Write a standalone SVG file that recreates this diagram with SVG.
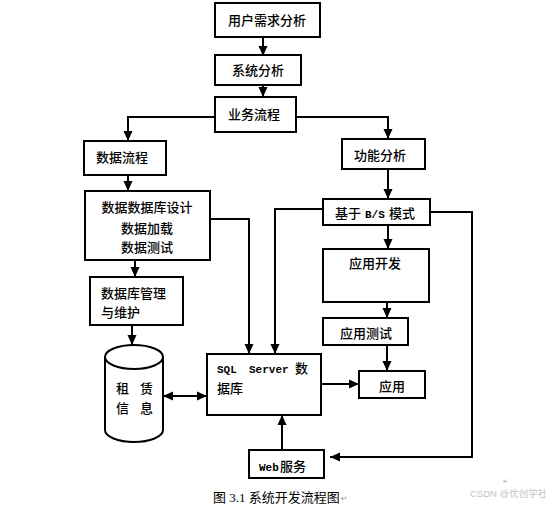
<svg xmlns="http://www.w3.org/2000/svg" width="546" height="505" viewBox="0 0 546 505">
<defs>
<marker id="ah" markerUnits="userSpaceOnUse" markerWidth="10" markerHeight="10" viewBox="0 0 10 10" refX="10" refY="5" orient="auto-start-reverse">
<path d="M0,0.5 L10,5 L0,9.5 Z" fill="#000"/>
</marker>
<style>
.box{fill:#fff;stroke:#000;stroke-width:2}
.ln{fill:none;stroke:#000;stroke-width:2}
.t{font-family:"Noto Sans CJK SC","Liberation Sans",sans-serif;font-size:13px;font-weight:500;fill:#000}
.m{font-family:"Liberation Mono","Noto Sans CJK SC",monospace;font-size:11px;font-weight:bold;fill:#000}
</style>
</defs>
<rect width="546" height="505" fill="#fff"/>
<g id="connectors">
<path class="ln" d="M263,37 V56" marker-end="url(#ah)"/>
<path class="ln" d="M263,85 V97" marker-end="url(#ah)"/>
<path class="ln" d="M215,117 H128 V141" marker-end="url(#ah)"/>
<path class="ln" d="M296,117 H388 V139" marker-end="url(#ah)"/>
<path class="ln" d="M388,169 V199" marker-end="url(#ah)"/>
<path class="ln" d="M128,175 V191" marker-end="url(#ah)"/>
<path class="ln" d="M210,219 H249 V354" marker-end="url(#ah)"/>
<path class="ln" d="M323,209 H275 V354" marker-end="url(#ah)"/>
<path class="ln" d="M430,212 H472 V457 H330" marker-end="url(#ah)"/>
<path class="ln" d="M388,225 V249" marker-end="url(#ah)"/>
<path class="ln" d="M387,302 V318" marker-end="url(#ah)"/>
<path class="ln" d="M387,345 V371" marker-end="url(#ah)"/>
<path class="ln" d="M321,384 H359" marker-end="url(#ah)"/>
<path class="ln" d="M163,396 H207" marker-start="url(#ah)" marker-end="url(#ah)"/>
<path class="ln" d="M282,450 V415" marker-end="url(#ah)"/>
<path class="ln" d="M135,260 V277" marker-end="url(#ah)"/>
<path class="ln" d="M132,325 V345" marker-end="url(#ah)"/>
</g>
<g id="n1"><rect class="box" x="215" y="3" width="105" height="34"/><text class="t" x="267" y="25" text-anchor="middle">用户需求分析</text></g>
<g id="n2"><rect class="box" x="215" y="55" width="86" height="30"/><text class="t" x="258" y="75" text-anchor="middle">系统分析</text></g>
<g id="n3"><rect class="box" x="215" y="97" width="81" height="35"/><text class="t" x="254" y="119" text-anchor="middle">业务流程</text></g>
<g id="n4"><rect class="box" x="84" y="141" width="82" height="34"/><text class="t" x="122" y="162" text-anchor="middle">数据流程</text></g>
<g id="n5"><rect class="box" x="342" y="139" width="83" height="30"/><text class="t" x="380" y="160" text-anchor="middle">功能分析</text></g>
<g id="n6"><rect class="box" x="85" y="191" width="125" height="69"/>
<text class="t" x="147" y="212" text-anchor="middle">数据数据库设计</text>
<text class="t" x="147" y="233" text-anchor="middle">数据加载</text>
<text class="t" x="147" y="252" text-anchor="middle">数据测试</text></g>
<g id="n7"><rect class="box" x="323" y="199" width="107" height="26"/>
<text class="t" x="335" y="218">基于</text><text class="m" x="365" y="218">B/S</text><text class="t" x="389" y="218">模式</text></g>
<g id="n8"><rect class="box" x="323" y="249" width="106" height="53"/><text class="t" x="375" y="268" text-anchor="middle">应用开发</text></g>
<g id="n9"><rect class="box" x="323" y="318" width="85" height="27"/><text class="t" x="366" y="338" text-anchor="middle">应用测试</text></g>
<g id="n10"><rect class="box" x="359" y="371" width="66" height="27"/><text class="t" x="392" y="391" text-anchor="middle">应用</text></g>
<g id="n11"><rect class="box" x="90" y="277" width="93" height="48"/>
<text class="t" x="101" y="298">数据库管理</text>
<text class="t" x="101" y="317">与维护</text></g>
<g id="n12">
<path class="box" d="M105,357 V430 A29,12 0 0 0 163,430 V357 A29,12 0 0 0 105,357 Z"/>
<path class="ln" d="M105,357 A29,12 0 0 0 163,357"/>
<text class="t" x="116" y="393">租</text><text class="t" x="140" y="393">赁</text>
<text class="t" x="116" y="413">信</text><text class="t" x="140" y="413">息</text></g>
<g id="n13"><rect class="box" x="207" y="354" width="114" height="61"/>
<text class="m" x="217" y="373">SQL</text><text class="m" x="249" y="373">Server</text><text class="t" x="295" y="373">数</text>
<text class="t" x="217" y="393">据库</text></g>
<g id="n14"><rect class="box" x="249" y="450" width="75" height="28"/>
<text class="m" x="259" y="471">Web</text><text class="t" x="280" y="471">服务</text></g>
<g id="caption">
<text x="213" y="502" style="font-family:'Liberation Serif','Noto Sans CJK SC',serif;font-size:13px;fill:#000">图 3.1  系统开发流程图</text>
<text x="341" y="501" style="font-family:'DejaVu Sans',sans-serif;font-size:8px;fill:#999">↵</text>
<text x="503" y="483" style="font-family:'DejaVu Sans',sans-serif;font-size:6px;fill:#999">↵</text>
<text x="470" y="497" style="font-family:'Liberation Sans','Noto Sans CJK SC',sans-serif;font-size:9.5px;fill:#c4c4c4">CSDN @优创学社</text>
</g>
</svg>
